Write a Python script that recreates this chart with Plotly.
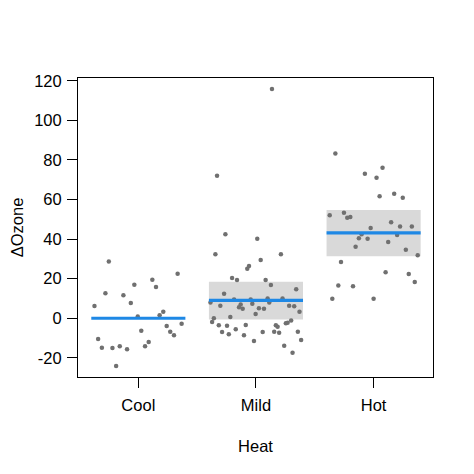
import plotly.graph_objects as go

# category labels and positions
categories = ["Cool", "Mild", "Hot"]
cat_pos = [1, 2, 3]
y_ticks = [-20, 0, 20, 40, 60, 80, 100, 120]
y_ticktext = ["-20", "0", "20", "40", "60", "80", "100", "120"]

# jittered points per group: horizontal offset from category centre, value
cool_jit = [-0.373, -0.251, -0.280, -0.342, -0.310, -0.220, -0.158, -0.096, -0.189, -0.127,
            -0.064, -0.034, -0.005, 0.025, 0.057, 0.088, 0.119, 0.150, 0.181, 0.212,
            0.241, 0.271, 0.303, 0.334, 0.368]
cool_vals = [6.2, 28.7, 12.6, -10.5, -14.9, -15.1, -14.2, -15.7, -24.2, 11.6,
             7.7, 16.9, 0.9, -6.3, -14.1, -12.0, 19.5, 15.8, 1.5, 3.3,
             -3.9, -6.8, -8.6, 22.5, -2.8]

mild_jit = [-0.331, -0.260, 0.011, -0.345, 0.040, 0.212, -0.059, -0.074, -0.203, -0.161,
            0.082, 0.127, 0.342, -0.271, -0.387, -0.186, -0.045, 0.099, 0.113, 0.226,
            -0.303, -0.130, -0.144, -0.113, -0.031, 0.025, 0.068, -0.003, -0.218, 0.282,
            0.325, 0.370, -0.358, -0.373, -0.316, -0.246, -0.087, 0.169, 0.184, 0.254,
            0.269, 0.299, -0.288, -0.231, -0.172, -0.102, 0.057, 0.155, 0.197, 0.356,
            -0.017, 0.240, 0.384, 0.311, 0.136]
mild_vals = [72.0, 42.5, 40.2, 32.3, 29.4, 32.3, 26.4, 25.0, 20.3, 19.3,
             19.3, 16.8, 14.6, 12.4, 8.0, 9.5, 9.5, 10.0, 8.0, 10.0,
             6.3, 7.0, 5.5, 4.8, 7.3, 5.0, 4.8, 2.1, 0.6, 6.3,
             6.0, 3.3, 0.0, -1.9, -3.6, -3.8, -3.4, -3.6, -4.3, -2.6,
             -2.3, -1.1, -7.0, -8.1, -5.6, -8.6, -7.0, -6.8, -7.3, -6.8,
             -11.5, -13.9, -11.0, -17.4, 115.8]

hot_jit = [-0.325, 0.076, -0.074, 0.025, 0.175, 0.248, 0.051, -0.373, -0.252, -0.224,
           -0.198, 0.149, 0.225, 0.325, -0.025, -0.102, -0.125, -0.051, 0.200, -0.153,
           0.124, 0.274, 0.375, -0.277, 0.102, 0.299, 0.350, -0.300, -0.175, -0.351,
           0.000]
hot_vals = [83.3, 76.1, 73.0, 71.0, 62.9, 60.9, 61.7, 52.0, 53.3, 50.8,
            51.1, 48.5, 46.4, 46.4, 45.6, 42.4, 40.4, 40.2, 42.0, 36.1,
            38.5, 34.6, 31.8, 28.4, 23.2, 22.3, 18.3, 16.6, 16.1, 9.9,
            9.9]

# estimated effects and confidence bands (Cool is the reference level)
means = [0.0, 9.0, 43.1]
lower = [None, -0.6, 31.3]
upper = [None, 18.4, 54.7]

half = 0.4
font = "Liberation Sans, Arial, Helvetica, sans-serif"
fsize = 16.5

fig = go.Figure()

# confidence bands
for pos, lo, hi in zip(cat_pos, lower, upper):
    if lo is None:
        continue
    fig.add_trace(go.Scatter(
        x=[pos - half, pos + half, pos + half, pos - half, pos - half],
        y=[lo, lo, hi, hi, lo],
        fill="toself", fillcolor="#d9d9d9", line=dict(width=0),
        mode="lines", hoverinfo="skip", showlegend=False
    ))

# points
for pos, jit, vals in zip(cat_pos, [cool_jit, mild_jit, hot_jit],
                          [cool_vals, mild_vals, hot_vals]):
    fig.add_trace(go.Scatter(
        x=[pos + j for j in jit], y=vals, mode="markers",
        marker=dict(color="#707070", size=4.5, line=dict(width=0)),
        showlegend=False
    ))

# mean lines
for pos, m in zip(cat_pos, means):
    fig.add_trace(go.Scatter(
        x=[pos - half, pos + half], y=[m, m], mode="lines",
        line=dict(color="#1e88e5", width=3.2),
        showlegend=False
    ))

axis_common = dict(
    showgrid=False, zeroline=False, showline=True, linecolor="black", linewidth=1,
    mirror=True, ticks="outside", ticklen=10, tickcolor="black", tickwidth=1,
    tickfont=dict(family=font, size=fsize, color="black"), automargin=False,
)

fig.update_xaxes(
    range=[0.487, 3.505], tickvals=cat_pos, ticktext=categories, ticklabelstandoff=3,
    title=dict(text="Heat", font=dict(family=font, size=fsize, color="black"), standoff=27),
    **axis_common
)
fig.update_yaxes(
    range=[-29.7, 121.4], tickvals=y_ticks, ticktext=y_ticktext, ticklabelstandoff=2,
    title=dict(text="ΔOzone", font=dict(family=font, size=fsize, color="black"), standoff=9),
    **axis_common
)

# page body adds an 8px offset, so the figure is 8px smaller
fig.update_layout(
    width=466, height=466,
    margin=dict(l=70, r=41, t=70, b=97),
    plot_bgcolor="white", paper_bgcolor="white",
)

fig.write_html("out.html")
